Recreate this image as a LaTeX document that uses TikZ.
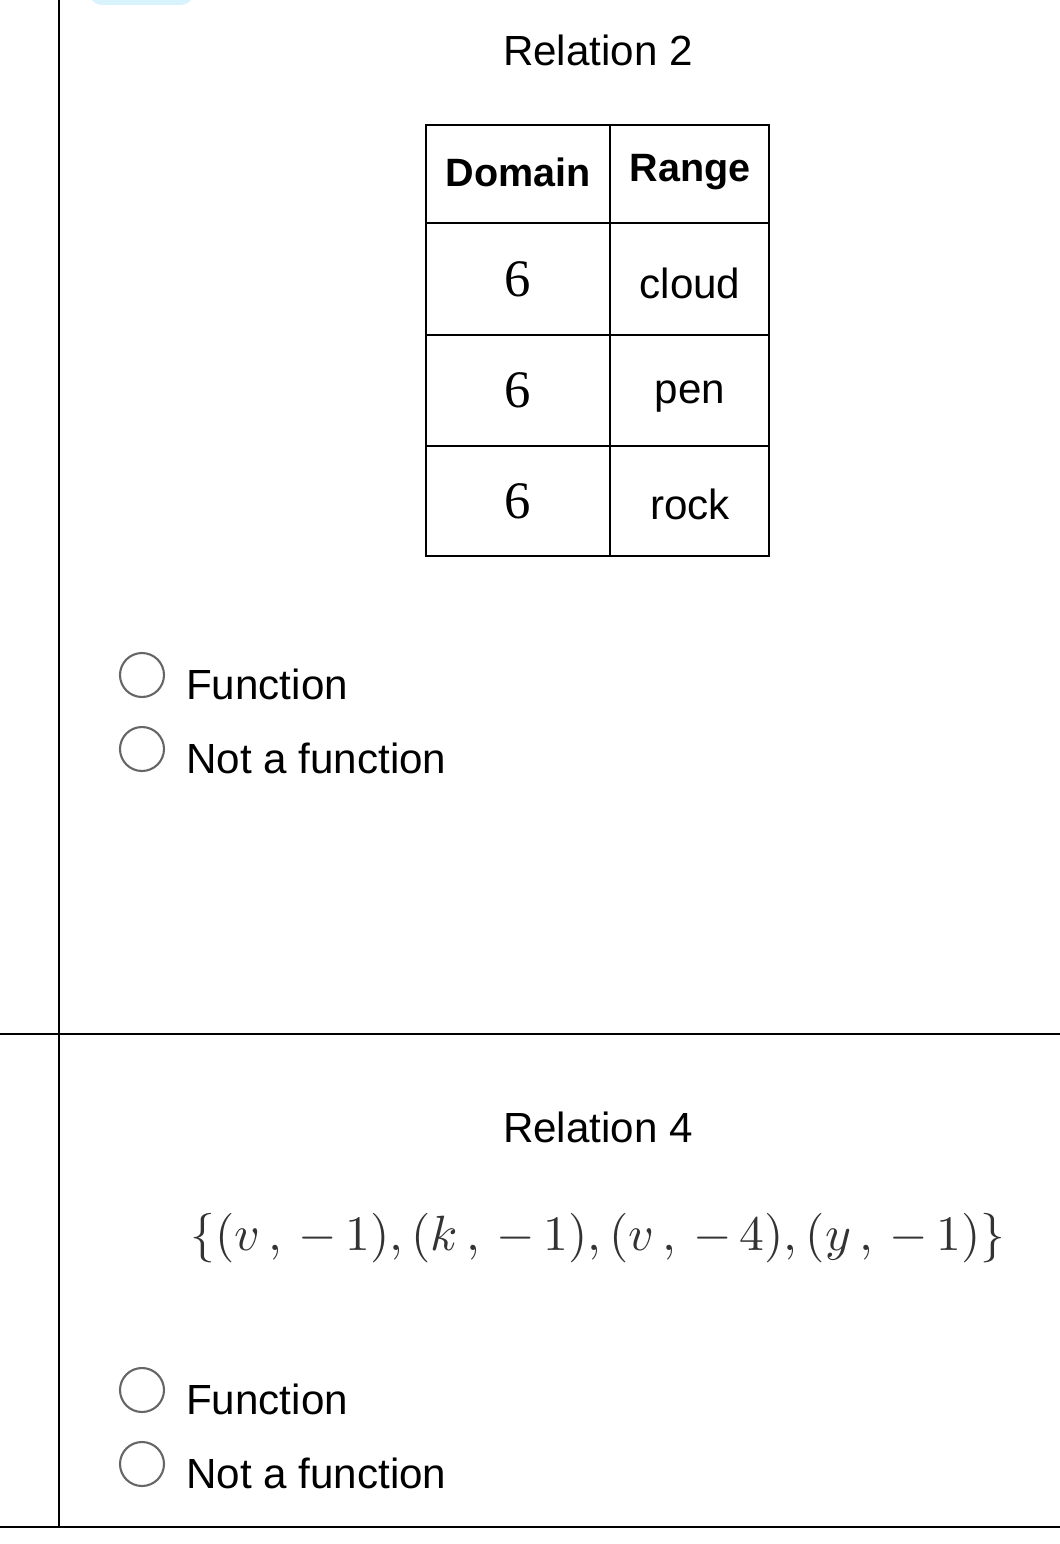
\documentclass[tikz,border=0pt]{standalone}
\usepackage{fontspec}
\setmainfont{Liberation Sans}
\newfontfamily\serifnum{Liberation Serif}
\usepackage{amsmath}
\usepackage{graphicx}
\begin{document}
\begin{tikzpicture}[x=0.02cm,y=-0.02cm,
    lbl/.style={font=\fontsize{24}{28}\selectfont},
    cell/.style={font=\fontsize{24}{28}\selectfont},
    head/.style={font=\bfseries\fontsize{22.5}{26}\selectfont},
    numcell/.style={font=\serifnum\fontsize{30}{34}\selectfont},
    radio/.style={draw=black!60,line width=1.2pt,circle,minimum size=0.88cm,inner sep=0pt}]
    \useasboundingbox (0,0) rectangle (1060,1544);
    \begin{scope}
        \clip (0,0) rectangle (1060,1544);
        \fill[cyan!15,rounded corners=0.3cm] (88,-40) rectangle (195,5);
    \end{scope}
    % frame lines
    \draw[line width=1.3pt] (59,0) -- (59,1527);
    \draw[line width=1.3pt] (0,1034) -- (1060,1034);
    \draw[line width=1.3pt] (0,1527) -- (1060,1527);
    % relation 2
    \node[lbl] (title2) at (598,50) {Relation 2};
    \draw[line width=1.3pt] (426,125) rectangle (769,556);
    \draw[line width=1.3pt] (610,125) -- (610,556);
    \foreach \yy in {223,335,446}
        \draw[line width=1.3pt] (426,\yy) -- (769,\yy);
    \node[head] (dom) at (518,172) {Domain};
    \node[head] (rng) at (690,172) {Range};
    \node[numcell] (d1) at (518,279) {6};
    \node[numcell] (d2) at (518,390) {6};
    \node[numcell] (d3) at (518,501) {6};
    \node[cell] (r1) at (690,283) {cloud};
    \node[cell] (r2) at (690,397) {pen};
    \node[cell] (r3) at (690,504) {rock};
    \node[radio] (ra) at (142,675) {};
    \node[radio] (rb) at (142,749) {};
    \node[lbl,anchor=west] (fa) at (180,684) {Function};
    \node[lbl,anchor=west] (na) at (180,758) {Not a function};
    % relation 4
    \node[lbl] (title4) at (598,1127) {Relation 4};
    \node[text=black!80,anchor=west,inner sep=0pt] (set) at (190,1238)
        {\resizebox{16.3cm}{!}{$\{(v\,,\,-\,1),(k\,,\,-\,1),(v\,,\,-\,4),(y\,,\,-\,1)\}$}};
    \node[radio] (rc) at (142,1390) {};
    \node[radio] (rd) at (142,1464) {};
    \node[lbl,anchor=west] (fc) at (180,1399) {Function};
    \node[lbl,anchor=west] (nd) at (180,1473) {Not a function};
\end{tikzpicture}
\end{document}
